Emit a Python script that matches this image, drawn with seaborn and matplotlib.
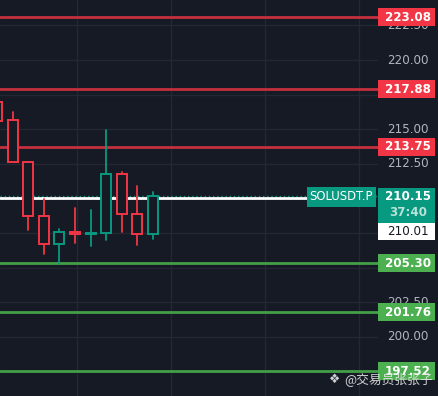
import numpy as np
import pandas as pd
import matplotlib
matplotlib.use("Agg")
import matplotlib.pyplot as plt
import seaborn as sns
from matplotlib.patches import Rectangle
from matplotlib.transforms import blended_transform_factory

# ---------------- data ----------------
opens  = [216.97, 215.64, 212.61, 208.71, 206.68, 207.55, 207.42, 207.48, 211.74, 208.85, 207.41]
closes = [215.61, 212.61, 208.71, 206.68, 207.55, 207.41, 207.45, 211.74, 208.85, 207.41, 210.15]
highs  = [217.30, 216.24, 212.61, 209.96, 207.79, 209.31, 209.16, 214.94, 211.91, 210.90, 210.46]
lows   = [215.61, 212.61, 207.74, 206.00, 205.28, 206.80, 206.58, 207.02, 207.59, 206.65, 207.09]

resist_levels = [223.08, 217.88, 213.75]
support_levels = [205.30, 201.76, 197.52]
last_price = 210.15
mark_price = 210.01
countdown = "37:40"
symbol = "SOLUSDT.P"
grid_values = [197.5, 200.0, 202.5, 205.0, 207.5, 210.0, 212.5, 215.0, 217.5, 220.0, 222.5]
tick_values = [222.50, 220.00, 215.00, 212.50, 202.50, 200.00]
watermark = "@交易员张张子"

df = pd.DataFrame({"open": opens, "close": closes, "high": highs, "low": lows})
df["idx"] = np.arange(len(df))

# ---------------- style ----------------
BG = "#161A25"
GRID = "#242833"
UP = "#089981"
DOWN = "#F23645"
RED_LINE = "#C4303D"
GREEN_LINE = "#43A047"
GREEN_BOX = "#4CAF50"
AXTXT = "#B2B5BE"

sns.set_theme(style="dark", rc={"axes.facecolor": BG, "figure.facecolor": BG})
plt.rcParams["font.family"] = ["DejaVu Sans"]

W, H = 438, 396
fig = plt.figure(figsize=(W / 100, H / 100), dpi=100)
plot_right = 378
ax = fig.add_axes([0, 0, plot_right / W, 1])
ax.set_facecolor(BG)

px_per_unit = 13.84
ytop = 220 + 60 / px_per_unit
ybot = 220 - (H - 60) / px_per_unit
step = 15.6
x0px = -3.0
XL = ((0 - x0px) / step, (plot_right - x0px) / step)

# level lines via seaborn
for lv in resist_levels:
    sns.lineplot(x=list(XL), y=[lv, lv], ax=ax, color=RED_LINE, lw=2, zorder=3)
for lv in support_levels:
    sns.lineplot(x=list(XL), y=[lv, lv], ax=ax, color=GREEN_LINE, lw=2, zorder=3)

# price lines
ax.plot(list(XL), [last_price, last_price], color=UP, lw=1, ls=(0, (1, 2)), zorder=4)
sym_left = 307
ax.plot([XL[0], (sym_left - x0px) / step], [mark_price, mark_price], color="white", lw=2, zorder=4)

# candles
bw = 10 / step
for _, r in df.iterrows():
    up = r["close"] >= r["open"]
    c = UP if up else DOWN
    top = max(r["open"], r["close"])
    bot = min(r["open"], r["close"])
    if r["high"] > top:
        ax.plot([r["idx"], r["idx"]], [top, r["high"]], color=c, lw=1.3, zorder=5)
    if r["low"] < bot:
        ax.plot([r["idx"], r["idx"]], [bot, r["low"]], color=c, lw=1.3, zorder=5)
    hgt = max(top - bot, 0.08)
    ax.add_patch(Rectangle((r["idx"] - bw / 2, bot), bw, hgt, facecolor=BG if hgt > 0.1 else c,
                           edgecolor=c, lw=1.4, zorder=6))

# grid + final limits (ticks first, limits after so they are not expanded)
ax.set_yticks(grid_values)
ax.set_xticks([(p - x0px) / step for p in (77, 171, 265, 359)])
ax.set_ylim(ybot, ytop)
ax.set_xlim(*XL)
ax.grid(True, color=GRID, lw=1)
ax.tick_params(left=False, bottom=False, labelleft=False, labelbottom=False)
ax.set_xlabel("")
ax.set_ylabel("")
for s in ax.spines.values():
    s.set_visible(False)

# ---------------- price axis ----------------
tr = blended_transform_factory(fig.transFigure, ax.transData)
bx0 = 378 / W
bx1 = 435 / W
xc = 408 / W
half = 9 / px_per_unit
fs = 8.6

for tv in tick_values:
    ax.text(xc, tv, f"{tv:.2f}", transform=tr, ha="center", va="center", color=AXTXT,
            fontsize=fs, zorder=1, clip_on=False)

def box(y, color, text, tcolor="white", weight="bold"):
    ax.add_patch(Rectangle((bx0, y - half), bx1 - bx0, 2 * half, transform=tr, facecolor=color,
                           edgecolor="none", clip_on=False, zorder=10))
    ax.text(xc, y, text, transform=tr, ha="center", va="center", color=tcolor, fontsize=fs,
            fontweight=weight, zorder=11, clip_on=False)

for lv in resist_levels:
    box(lv, DOWN, f"{lv:.2f}")
for lv in support_levels:
    box(lv, GREEN_BOX, f"{lv:.2f}")

# last price box (two lines)
top_y = ytop - 188 / px_per_unit
bot_y = ytop - 223 / px_per_unit
ax.add_patch(Rectangle((bx0, bot_y), bx1 - bx0, top_y - bot_y, transform=tr, facecolor=UP,
                       edgecolor="none", clip_on=False, zorder=10))
ax.text(xc, ytop - 197 / px_per_unit, f"{last_price:.2f}", transform=tr, ha="center", va="center",
        color="white", fontsize=fs, fontweight="bold", zorder=11)
ax.text(xc, ytop - 213 / px_per_unit, countdown, transform=tr, ha="center", va="center",
        color="#B8E3D8", fontsize=fs, fontweight="bold", zorder=11)
# mark price box
mb_top = ytop - 223 / px_per_unit
mb_bot = ytop - 240 / px_per_unit
ax.add_patch(Rectangle((bx0, mb_bot), bx1 - bx0, mb_top - mb_bot, transform=tr, facecolor="white",
                       edgecolor="none", clip_on=False, zorder=10))
ax.text(xc, (mb_top + mb_bot) / 2, f"{mark_price:.2f}", transform=tr, ha="center", va="center",
        color="#131722", fontsize=fs, zorder=11)

# symbol box
s_top = ytop - 187 / px_per_unit
s_bot = ytop - 207 / px_per_unit
ax.add_patch(Rectangle((sym_left / W, s_bot), (376 - sym_left) / W, s_top - s_bot, transform=tr,
                       facecolor=UP, edgecolor="none", clip_on=False, zorder=10))
ax.text((sym_left + 376) / 2 / W, (s_top + s_bot) / 2, symbol, transform=tr, ha="center",
        va="center", color="white", fontsize=8.4, zorder=11)

# watermark
fig.text(335 / W, 1 - 379 / H, "❖", ha="center", va="center", color="#E6E6E6", alpha=0.9,
         fontsize=9, family=["DejaVu Sans"], zorder=20)
fig.text(344 / W, 1 - 379 / H, watermark, ha="left", va="center", color="#E6E6E6", alpha=0.9,
         fontsize=9.2, family=["Noto Sans CJK SC", "DejaVu Sans"], zorder=20)

fig.savefig("out.png", dpi=100, facecolor=BG)
